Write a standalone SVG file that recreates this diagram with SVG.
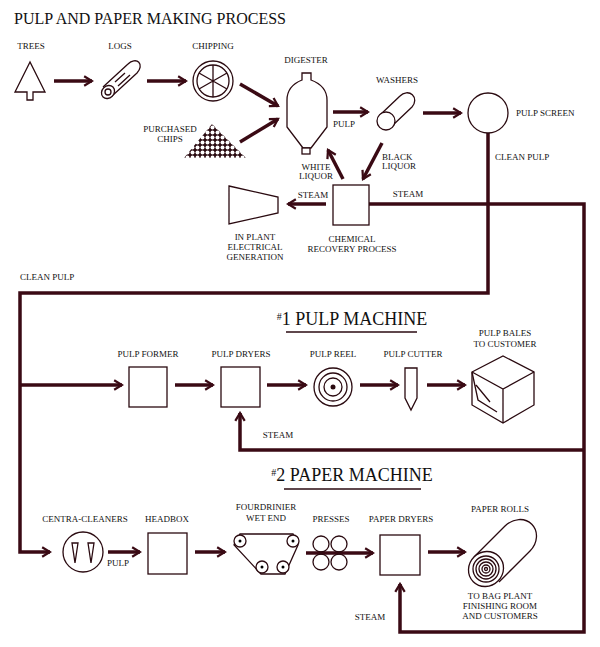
<svg xmlns="http://www.w3.org/2000/svg" width="600" height="647" viewBox="0 0 600 647">
<style>
text{font-family:"Liberation Serif","DejaVu Serif",serif;font-size:9px;fill:#111;text-anchor:middle}
.t{font-size:17px;text-anchor:start}
.h{font-size:18px}
.l{text-anchor:start}
.s{fill:none;stroke:#2a0a10;stroke-width:1.3}
.w{fill:#fff;stroke:#2a0a10;stroke-width:1.3}
.c{fill:none;stroke:#3a0a14;stroke-width:3.5}
</style>
<defs>
<marker id="a" viewBox="0 0 10 10" refX="8" refY="5" markerWidth="3.2" markerHeight="3.6" orient="auto" markerUnits="strokeWidth">
<path d="M1,0.8 L8,5 L1,9.2" fill="none" stroke="#3a0a14" stroke-width="2"/>
</marker>
<pattern id="p" width="5" height="5" patternUnits="userSpaceOnUse">
<rect width="5" height="5" fill="#2a0a10"/><circle cx="2.5" cy="2.5" r="2" fill="#fff"/>
</pattern>
<clipPath id="cp"><path d="M212,124L184,158H246Z"/></clipPath>
</defs>
<rect width="600" height="647" fill="#fff"/>
<text class="t" x="14" y="24" textLength="272" lengthAdjust="spacingAndGlyphs">PULP AND PAPER MAKING PROCESS</text>

<g id="connectors" class="c">
<path d="M54,81H92" marker-end="url(#a)"/>
<path d="M147,81H186" marker-end="url(#a)"/>
<path d="M240,84L278,106" marker-end="url(#a)"/>
<path d="M240,142L278,119" marker-end="url(#a)"/>
<path d="M333,112H368" marker-end="url(#a)"/>
<path d="M423,113H461" marker-end="url(#a)"/>
<path d="M382,143L363,179" marker-end="url(#a)"/>
<path d="M343,179L328,150" marker-end="url(#a)"/>
<path d="M326,204H288" marker-end="url(#a)"/>
<path d="M369,204H584V632H400V584" marker-end="url(#a)"/>
<path d="M488,133V293H20V552H50" marker-end="url(#a)"/>
<path d="M20,385H122" marker-end="url(#a)"/>
<path d="M175,385H213" marker-end="url(#a)"/>
<path d="M267,385H306" marker-end="url(#a)"/>
<path d="M360,385H398" marker-end="url(#a)"/>
<path d="M427,385H465" marker-end="url(#a)"/>
<path d="M584,450H240V413" marker-end="url(#a)"/>
<path d="M108,552H140" marker-end="url(#a)"/>
<path d="M195,552H225" marker-end="url(#a)"/>
<path d="M306,553H373" marker-end="url(#a)"/>
<path d="M428,552H465" marker-end="url(#a)"/>
</g>

<g id="trees">
<path class="w" d="M30,62L15,92H27V100H33V92H45Z"/>
<text x="31" y="49">TREES</text>
</g>
<g id="logs">
<path class="w" d="M103,87L128,64A5,7 45 0 1 137,73L112,96"/>
<ellipse class="w" cx="108" cy="92" rx="6" ry="7" transform="rotate(45 108 92)"/>
<circle class="s" cx="108" cy="92" r="3"/>
<path class="s" d="M115,82L125,73M118,86L130,75"/>
<text x="120" y="49">LOGS</text>
</g>
<g id="chipping">
<circle class="w" cx="213" cy="81" r="20"/>
<circle class="s" cx="213" cy="81" r="16"/>
<path class="s" d="M213,65V97M199,73L227,89M199,89L227,73"/>
<text x="213" y="49">CHIPPING</text>
</g>
<g id="chips">
<rect x="180" y="120" width="70" height="40" fill="url(#p)" clip-path="url(#cp)"/>
<text x="170" y="132">PURCHASED</text>
<text x="170" y="142">CHIPS</text>
</g>
<g id="digester">
<path class="w" d="M302,73H311V80Q327,86 327,100V127L311,148H303L287,127V100Q287,86 302,80Z"/>
<rect class="w" x="302" y="148" width="8" height="6"/>
<text x="306" y="63">DIGESTER</text>
<text x="344" y="127">PULP</text>
</g>
<g id="washers">
<path class="w" d="M380,115L400,96A7,8 45 0 1 412,107L392,126"/>
<circle class="w" cx="386" cy="121" r="9"/>
<text x="397" y="83">WASHERS</text>
</g>
<g id="screen">
<circle class="w" cx="488" cy="113" r="20"/>
<text class="l" x="516" y="116">PULP SCREEN</text>
<text class="l" x="495" y="160">CLEAN PULP</text>
</g>
<g id="recovery">
<rect class="w" x="333" y="185" width="36" height="40"/>
<text x="382" y="160" class="l">BLACK</text>
<text x="382" y="169" class="l">LIQUOR</text>
<text x="316" y="170">WHITE</text>
<text x="316" y="179">LIQUOR</text>
<text x="313" y="198">STEAM</text>
<text x="408" y="197">STEAM</text>
<text x="352" y="242">CHEMICAL</text>
<text x="352" y="252">RECOVERY PROCESS</text>
</g>
<g id="generation">
<path class="w" d="M229,186L278,197V213L229,224Z"/>
<text x="255" y="240">IN PLANT</text>
<text x="255" y="250">ELECTRICAL</text>
<text x="255" y="260">GENERATION</text>
</g>
<text class="l" x="20" y="280">CLEAN PULP</text>

<g id="pm1">
<text class="h" x="352" y="325"><tspan font-size="10" dy="-5">#</tspan><tspan dy="5">1 PULP MACHINE</tspan></text>
<path class="s" d="M286,332H417"/>
</g>
<g id="pulpformer"><rect class="w" x="129" y="367" width="38" height="40"/><text x="148" y="357">PULP FORMER</text></g>
<g id="pulpdryers"><rect class="w" x="221" y="367" width="39" height="40"/><text x="241" y="357">PULP DRYERS</text>
<text x="278" y="438">STEAM</text></g>
<g id="pulpreel">
<circle class="w" cx="333" cy="387" r="19"/><circle class="s" cx="333" cy="387" r="14"/><circle class="s" cx="333" cy="387" r="9"/><circle cx="333" cy="387" r="2.5" fill="#2a0a10"/>
<text x="333" y="357">PULP REEL</text></g>
<g id="pulpcutter"><path class="w" d="M405,368H417V398L411,410L405,398Z"/><text x="413" y="357">PULP CUTTER</text></g>
<g id="bales">
<path class="w" d="M472,372L503,356L534,372V405L503,423L472,405Z"/>
<path class="s" d="M472,372L503,389L534,372M503,389V423M472,372L478,400L497,412M476,385L490,402"/>
<text x="505" y="336">PULP BALES</text><text x="505" y="347">TO CUSTOMER</text>
</g>

<g id="pm2">
<text class="h" x="352" y="481"><tspan font-size="10" dy="-5">#</tspan><tspan dy="5">2 PAPER MACHINE</tspan></text>
<path class="s" d="M284,489H421"/>
</g>
<g id="cleaners">
<circle class="w" cx="83" cy="552" r="20"/>
<path class="s" d="M72,543H78L75,563ZM88,543H94L91,563Z"/>
<text x="85" y="522">CENTRA-CLEANERS</text>
<text x="118" y="566">PULP</text>
</g>
<g id="headbox"><rect class="w" x="148" y="533" width="39" height="41"/><text x="167" y="522">HEADBOX</text></g>
<g id="fourdrinier">
<path class="s" d="M240,534H293L298,545L285,574H261L234,545Z"/>
<circle class="w" cx="240" cy="541" r="6"/><circle class="w" cx="293" cy="541" r="6"/><circle class="w" cx="262" cy="567" r="6"/><circle class="w" cx="283" cy="567" r="6"/>
<circle cx="240" cy="541" r="1.5"/><circle cx="293" cy="541" r="1.5"/><circle cx="262" cy="567" r="1.5"/><circle cx="283" cy="567" r="1.5"/>
<text x="266" y="510">FOURDRINIER</text><text x="266" y="521">WET END</text>
</g>
<g id="presses">
<circle class="s" cx="321" cy="544" r="8"/><circle class="s" cx="339" cy="544" r="8"/><circle class="s" cx="321" cy="562" r="8"/><circle class="s" cx="339" cy="562" r="8"/>
<text x="331" y="522">PRESSES</text>
</g>
<g id="paperdryers"><rect class="w" x="380" y="535" width="40" height="40"/><text x="401" y="522">PAPER DRYERS</text>
<text x="370" y="620">STEAM</text></g>
<g id="rolls">
<path class="w" d="M474,557L505,526A14,16 45 0 1 530,551L499,582"/>
<ellipse class="w" cx="486" cy="569" rx="17" ry="18" transform="rotate(45 486 569)"/>
<circle class="s" cx="486" cy="569" r="13"/><circle class="s" cx="486" cy="569" r="10"/><circle class="s" cx="486" cy="569" r="7"/><circle class="s" cx="486" cy="569" r="4"/><circle class="s" cx="486" cy="569" r="1.5"/>
<text x="500" y="512">PAPER ROLLS</text>
<text x="500" y="599">TO BAG PLANT</text><text x="500" y="609">FINISHING ROOM</text><text x="500" y="619">AND CUSTOMERS</text>
</g>
</svg>
